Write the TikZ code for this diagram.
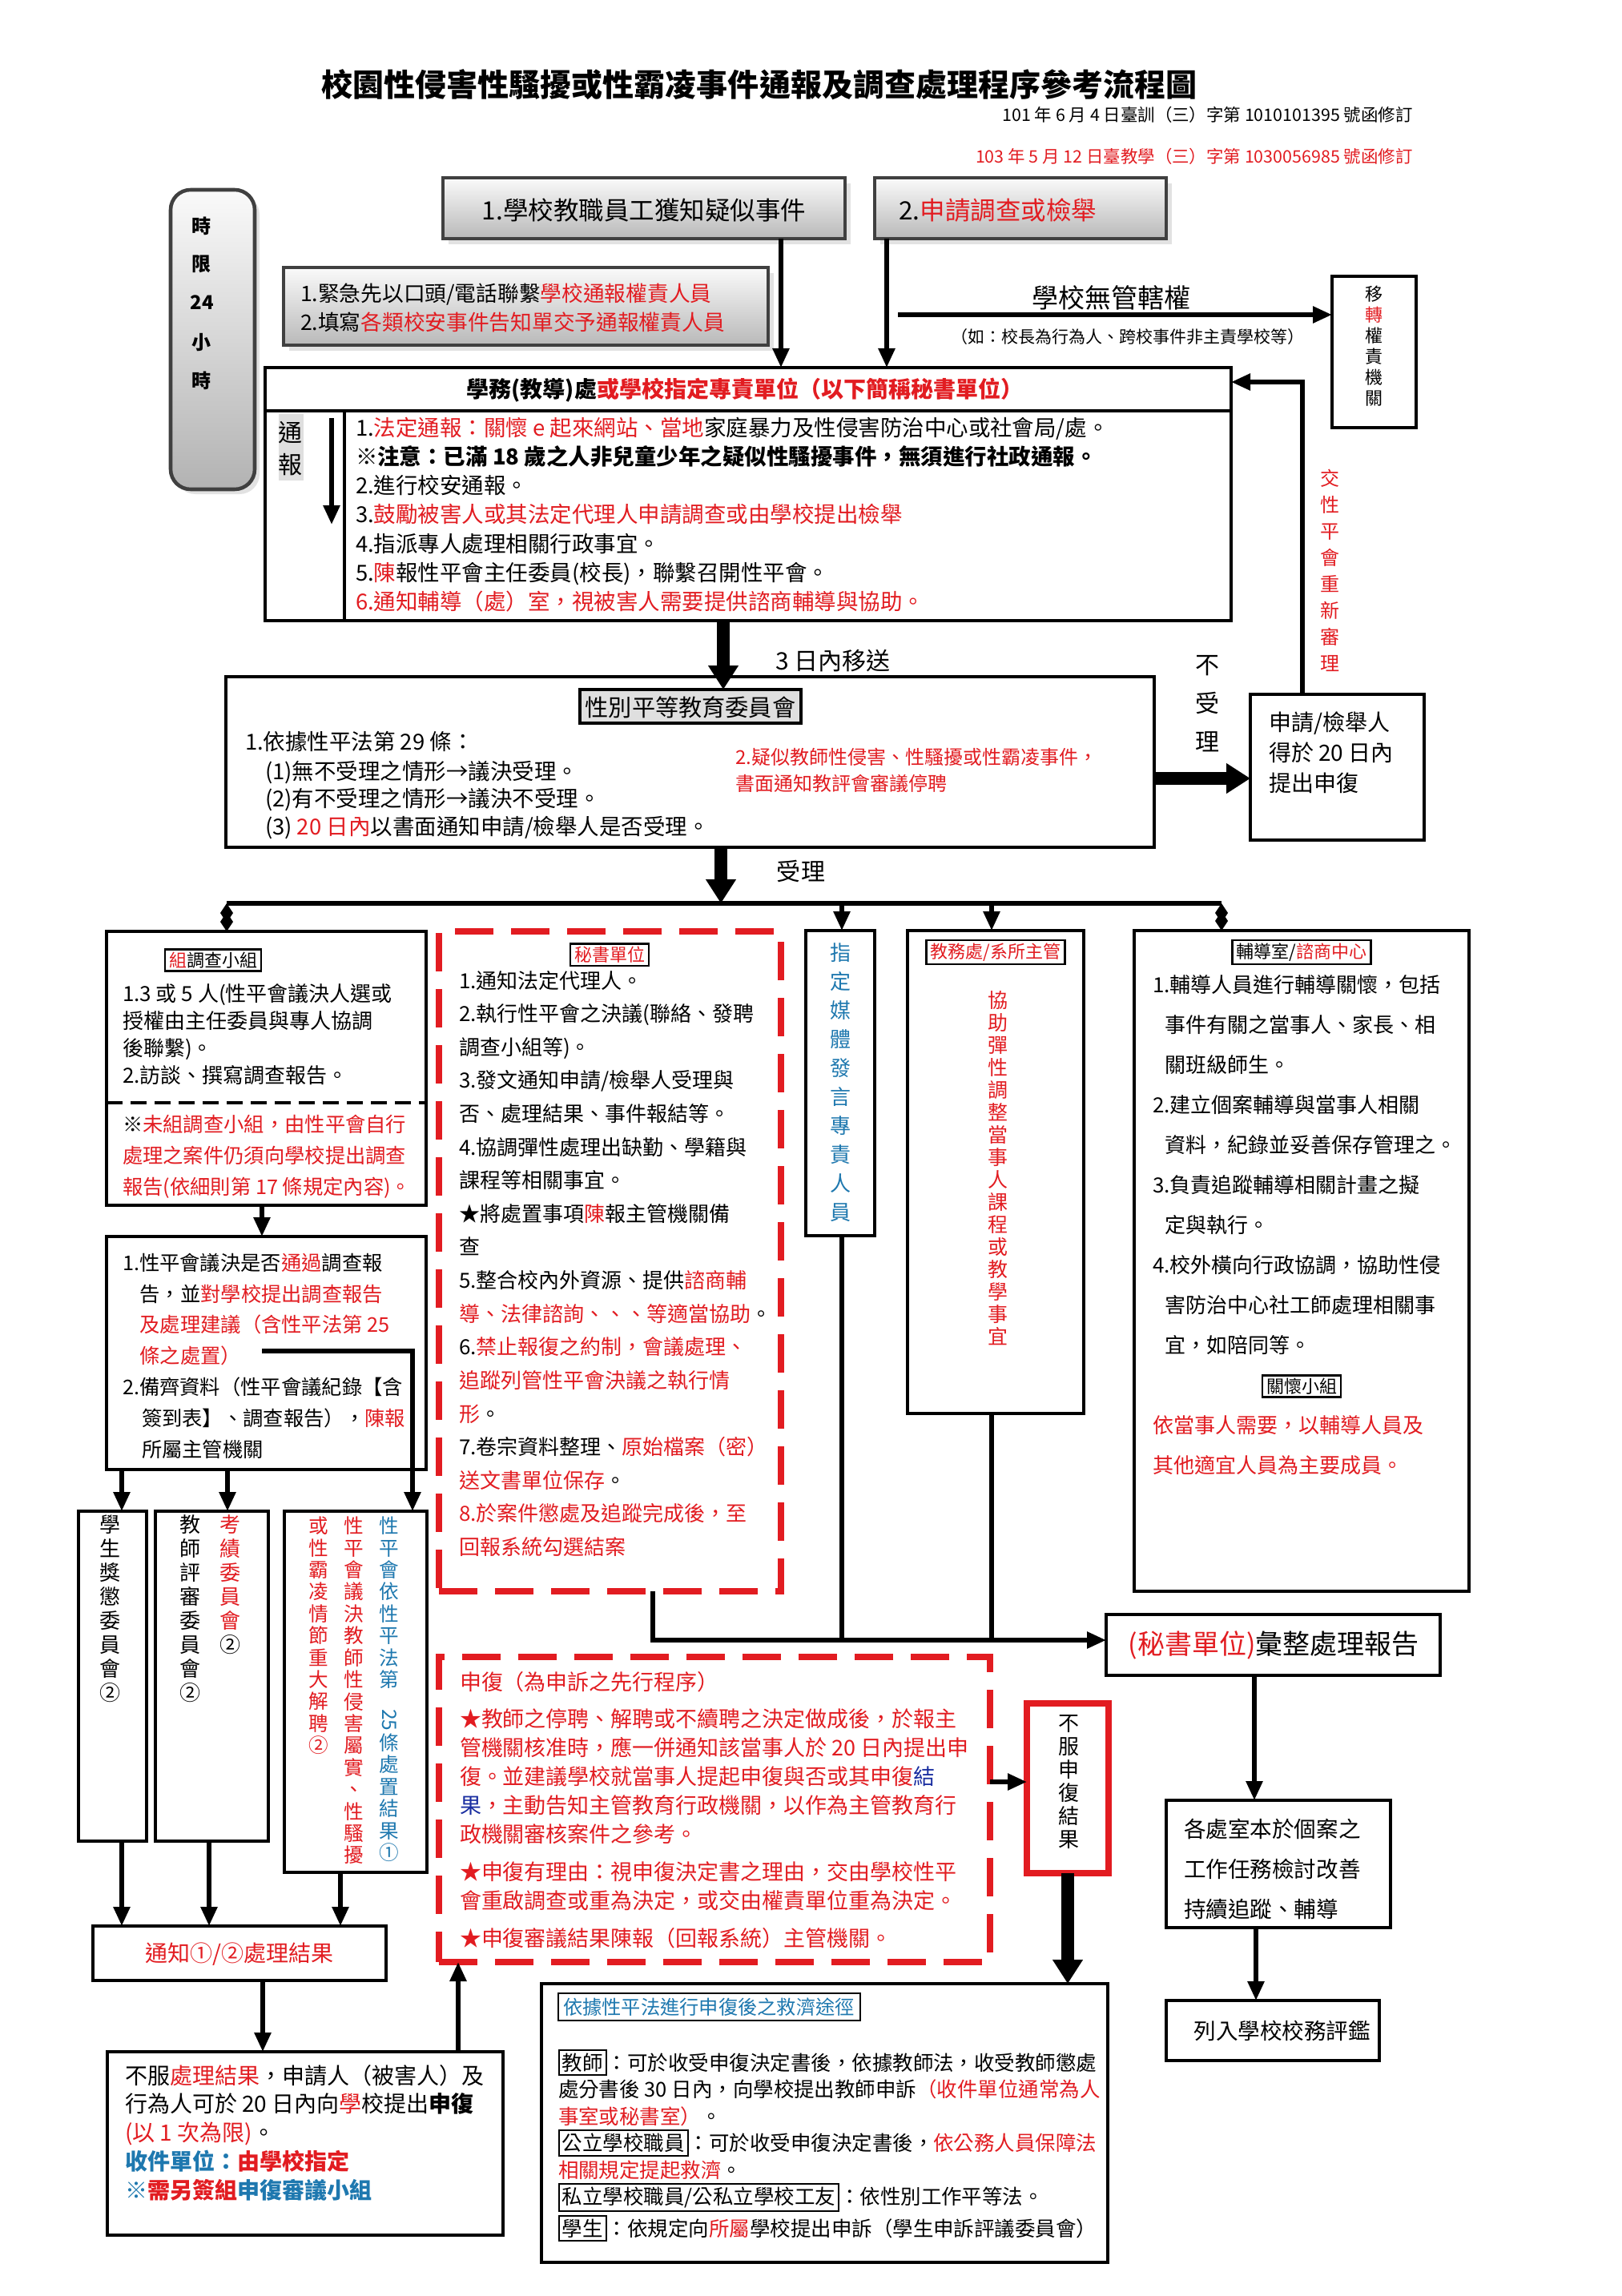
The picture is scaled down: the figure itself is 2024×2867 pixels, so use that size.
\documentclass[tikz,border=0pt]{standalone}
\usepackage{fontspec}
\usepackage{graphicx}
\setmainfont{Noto Sans CJK TC}
\usetikzlibrary{arrows.meta,shadows}
\definecolor{rd}{RGB}{226,28,33}
\definecolor{tl}{RGB}{30,120,175}
\definecolor{db}{RGB}{25,45,160}
\newcommand\fs[2]{\fontsize{#1}{#2}\selectfont}
\newcommand\R[1]{\textcolor{rd}{#1}}
\newcommand\T[1]{\textcolor{tl}{#1}}
\newcommand\fb[1]{{\setlength\fboxsep{0.8pt}\setlength\fboxrule{0.6pt}\fbox{#1}}}
\newcommand\mkbox[6]{\node[#6, minimum width={(#4-#2)*0.1mm}, minimum height={(#5-#3)*0.1mm}] (#1) at ({(#2+#4)/2},{(#3+#5)/2}) {};}
\tikzset{
 bx/.style={draw, line width=1.1pt, inner sep=0pt, outer sep=0pt},
 gbox/.style={draw=gray!50!black, line width=1.1pt, top color=gray!4, bottom color=gray!55, inner sep=0pt, outer sep=0pt, drop shadow={shadow xshift=0.7mm, shadow yshift=-0.7mm, fill=gray!45}},
 rdash/.style={draw=rd, line width=2.2pt, dash pattern=on 4.8mm off 2.2mm, inner sep=0pt, outer sep=0pt},
 txt/.style={inner sep=0pt, outer sep=0pt, align=left, anchor=north west},
 vt/.style={inner sep=0pt, outer sep=0pt, align=center, anchor=north},
 lbl/.style={draw, line width=0.7pt, inner xsep=0.5mm, inner ysep=0.35mm, font=\fs{6.26}{7}},
 arr/.style={line width=1.6pt, -{Triangle[length=2.4mm,width=2mm]}},
 tarr/.style={line width=4.5pt, -{Triangle[length=3mm,width=3.6mm]}},
 bl/.style={line width=1.6pt},
 dia/.style={line width=1.5pt, {Diamond[length=2.4mm,width=1.6mm]}-{Diamond[length=2.4mm,width=1.6mm]}},
}
\begin{document}
\begin{tikzpicture}[x=0.1mm,y=-0.1mm]
\useasboundingbox (0,0) rectangle (2024,2867);
\fill[white] (0,0) rectangle (2024,2867);

% title
\node[font=\bfseries\fs{11.1}{13}] (title) at (948,106) {校園性侵害性騷擾或性霸凌事件通報及調查處理程序參考流程圖};
\node[font=\fs{6.1}{7}, anchor=east] (rev1) at (1776,143) {101 年 6 月 4 日臺訓（三）字第 1010101395 號函修訂};
\node[font=\fs{6.1}{7}, anchor=east, text=rd] (rev2) at (1776,195) {103 年 5 月 12 日臺教學（三）字第 1030056985 號函修訂};

% time limit box
\mkbox{lim}{213}{237}{318}{611}{draw=gray!50!black, line width=1.3pt, rounded corners=2.5mm, top color=gray!4, bottom color=gray!60, inner sep=0pt, outer sep=0pt, drop shadow={shadow xshift=0.6mm, shadow yshift=-0.6mm, fill=gray!45}}
\node[font=\bfseries\fs{6.83}{8}] (l1) at (252,282) {時};
\node[font=\bfseries\fs{6.83}{8}] (l2) at (252,330) {限};
\node[font=\bfseries\fs{6.83}{8}] (l3) at (252,378) {24};
\node[font=\bfseries\fs{6.83}{8}] (l4) at (252,428) {小};
\node[font=\bfseries\fs{6.83}{8}] (l5) at (252,475) {時};

% top boxes
\mkbox{e1}{553}{222}{1055}{298}{gbox}
\node[font=\fs{8.96}{10}] (e1t) at (804,263) {1.學校教職員工獲知疑似事件};
\mkbox{e2}{1092}{222}{1456}{298}{gbox}
\node[font=\fs{8.96}{10}, anchor=west] (e2t) at (1110,263) {2.\R{申請調查或檢舉}};
\mkbox{em}{354}{334}{959}{431}{gbox}
\node[txt, font=\fs{7.6}{10.24}] (emt) at (375,354) {1.緊急先以口頭/電話聯繫\R{學校通報權責人員}\\2.填寫\R{各類校安事件告知單交予通報權責人員}};

% transfer box
\mkbox{mv}{1663}{345}{1768}{534}{bx}
\node[vt, font=\fs{6.26}{7.4}] (mvt) at (1715,357) {移\\\R{轉}\\權\\責\\機\\關};
\coordinate (ha) at (1121,393);
\draw[arr] (ha) -- (mv.west |- ha);
\node[font=\fs{9.39}{10}] (nj) at (1387,372) {學校無管轄權};
\node[font=\fs{5.97}{7}] (nj2) at (1408,421) {（如：校長為行為人、跨校事件非主責學校等）};

% student affairs box
\mkbox{sa}{331}{459}{1537}{775}{bx}
\draw[line width=1.1pt] (sa.west |- 0,513) -- (sa.east |- 0,513);
\draw[line width=1.1pt] (430,513) -- (sa.south -| 430,0);
\node[font=\bfseries\fs{7.97}{9}] (sahd) at (930,487) {學務(教導)處\R{或學校指定專責單位（以下簡稱秘書單位）}};
\fill[gray!25] (348,517) rectangle (379,600);
\node[font=\fs{8.54}{9}] (tb1) at (363,540) {通};
\node[font=\fs{8.54}{9}] (tb2) at (363,580) {報};
\coordinate (tba) at (414,522);
\coordinate (tbb) at (414,655);
\draw[arr] (tba) -- (tbb);
\node[txt, font=\fs{7.82}{10.3}] (sabody) at (444,521) {1.\R{法定通報：關懷 e 起來網站、當地}家庭暴力及性侵害防治中心或社會局/處。\\
\textbf{※注意：已滿 18 歲之人非兒童少年之疑似性騷擾事件，無須進行社政通報。}\\
2.進行校安通報。\\
3.\R{鼓勵被害人或其法定代理人申請調查或由學校提出檢舉}\\
4.指派專人處理相關行政事宜。\\
5.\R{陳}報性平會主任委員(校長)，聯繫召開性平會。\\
\R{6.通知輔導（處）室，視被害人需要提供諮商輔導與協助。}};

\draw[arr] (e1.south -| 975,0) -- (sa.north -| 975,0);
\draw[arr] (e2.south -| 1107,0) -- (sa.north -| 1107,0);

% committee
\mkbox{cm}{282}{845}{1441}{1058}{bx}
\mkbox{ct}{724}{861}{1000}{903}{draw, line width=1.1pt, fill=gray!25, inner sep=0pt, outer sep=0pt}
\node[font=\fs{8.3}{9}] (ctt) at (862,883) {性別平等教育委員會};
\draw[tarr] (sa.south -| 903,0) -- (ct.north -| 903,0);
\node[font=\fs{8.54}{9}] (d3) at (1040,825) {3 日內移送};
\node[txt, font=\fs{7.82}{9}] (cm1) at (306,913) {1.依據性平法第 29 條：};
\node[txt, font=\fs{7.82}{9.8}] (cm2) at (331,950) {(1)無不受理之情形→議決受理。\\(2)有不受理之情形→議決不受理。\\(3) \R{20 日內}以書面通知申請/檢舉人是否受理。};
\node[txt, font=\fs{6.83}{9.39}, text=rd] (cm3) at (918,934) {2.疑似教師性侵害、性騷擾或性霸凌事件，\\書面通知教評會審議停聘};

% appeal applicant box
\mkbox{ap}{1561}{867}{1778}{1049}{bx}
\node[txt, font=\fs{7.97}{10.8}] (apt) at (1584,889) {申請/檢舉人\\得於 20 日內\\提出申復};
\node[vt, font=\fs{8.54}{13.7}] (nac) at (1507,818) {不\\受\\理};
\draw[tarr] (cm.east |- 0,972) -- (ap.west |- 0,972);
\coordinate (fb1) at (1626,477);
\draw[arr] (ap.north -| fb1) -- (fb1) -- (sa.east |- fb1);
\node[vt, font=\fs{6.83}{9.39}, text=rd] (rehear) at (1660,586) {交\\性\\平\\會\\重\\新\\審\\理};

% accepted bus
\coordinate (busc) at (900,1128);
\draw[tarr] (cm.south -| busc) -- (busc);
\node[font=\fs{8.54}{9}] (acc) at (1000,1088) {受理};
\draw[line width=1.5pt] (283,1128) -- (1525,1128);

% investigation group box
\mkbox{zd}{133}{1163}{532}{1505}{bx}
\draw[line width=1.1pt, dash pattern=on 2mm off 1mm] (zd.west |- 0,1377) -- (zd.east |- 0,1377);
\node[lbl] (zdl) at (266,1199) {\R{組}調查小組};
\node[txt, font=\fs{7.4}{9.59}] (zdt) at (153,1229) {1.3 或 5 人(性平會議決人選或\\授權由主任委員與專人協調\\後聯繫)。\\2.訪談、撰寫調查報告。};
\node[txt, font=\fs{7.2}{11.1}, text=rd] (zdr) at (153,1392) {\textcolor{black}{※}未組調查小組，由性平會自行\\處理之案件仍須向學校提出調查\\報告(依細則第 17 條規定內容)。};

% secretariat box
\mkbox{sec}{548}{1163}{975}{1987}{rdash}
\node[lbl, text=rd] (secl) at (761,1192) {秘書單位};
\node[txt, font=\fs{7.4}{11.84}] (sect) at (573,1212) {1.通知法定代理人。\\
2.執行性平會之決議(聯絡、發聘\\
調查小組等)。\\
3.發文通知申請/檢舉人受理與\\
否、處理結果、事件報結等。\\
4.協調彈性處理出缺勤、學籍與\\
課程等相關事宜。\\
★將處置事項\R{陳}報主管機關備\\
查\\
5.整合校內外資源、提供\R{諮商輔}\\
\R{導、法律諮詢、、、等適當協助}。\\
6.\R{禁止報復之約制，會議處理、}\\
\R{追蹤列管性平會決議之執行情}\\
\R{形}。\\
7.卷宗資料整理、\R{原始檔案（密）}\\
\R{送文書單位保存}。\\
\R{8.於案件懲處及追蹤完成後，至}\\
\R{回報系統勾選結案}};

% media box
\mkbox{md}{1006}{1162}{1092}{1543}{bx}
\node[vt, font=\fs{7.4}{10.24}, text=tl] (mdt) at (1049,1178) {指\\定\\媒\\體\\發\\言\\專\\責\\人\\員};
% academic affairs box
\mkbox{ja}{1133}{1162}{1353}{1765}{bx}
\node[lbl, text=rd] (jal) at (1243,1189) {教務處/系所主管};
\node[vt, font=\fs{7.1}{7.97}, text=rd] (jat) at (1246,1237) {協\\助\\彈\\性\\調\\整\\當\\事\\人\\課\\程\\或\\教\\學\\事\\宜};
% counseling box
\mkbox{fd}{1416}{1162}{1834}{1987}{bx}
\node[lbl] (fdl) at (1625,1189) {輔導室/\R{諮商中心}};
\node[txt, font=\fs{7.4}{14.22}] (fdt) at (1439,1218) {1.輔導人員進行輔導關懷，包括\\
\hspace*{0.58em}事件有關之當事人、家長、相\\
\hspace*{0.58em}關班級師生。\\
2.建立個案輔導與當事人相關\\
\hspace*{0.58em}資料，紀錄並妥善保存管理之。\\
3.負責追蹤輔導相關計畫之擬\\
\hspace*{0.58em}定與執行。\\
4.校外橫向行政協調，協助性侵\\
\hspace*{0.58em}害防治中心社工師處理相關事\\
\hspace*{0.58em}宜，如陪同等。};
\node[lbl] (fdl2) at (1625,1731) {關懷小組};
\node[txt, font=\fs{7.4}{14.22}, text=rd] (fdr) at (1439,1768) {依當事人需要，以輔導人員及\\其他適宜人員為主要成員。};

% bus drops
\draw[dia] (283,1128) -- (zd.north -| 283,0);
\draw[dia] (1525,1128) -- (fd.north -| 1525,0);
\draw[arr] (1051,1128) -- (md.north -| 1051,0);
\draw[arr] (1238,1128) -- (ja.north -| 1238,0);

% committee decision box
\draw[arr] (zd.south -| 327,0) -- (327,1544);
\mkbox{dc}{133}{1544}{532}{1835}{bx}
\node[txt, font=\fs{7.2}{11.04}] (dct) at (153,1565) {1.性平會議決是否\R{通過}調查報\\
\hspace*{0.85em}告，並\R{對學校提出調查報告}\\
\hspace*{0.85em}\R{及處理建議（含性平法第 25}\\
\hspace*{0.85em}\R{條之處置）}\\
2.備齊資料（性平會議紀錄【含\\
\hspace*{0.95em}簽到表】、調查報告），\R{陳報}\\
\hspace*{0.95em}所屬主管機關};

% vertical boxes
\mkbox{va}{98}{1887}{183}{2299}{bx}
\mkbox{vb}{194}{1887}{335}{2299}{bx}
\mkbox{vc}{355}{1887}{533}{2338}{bx}
\node[vt, font=\fs{7.4}{8.54}] (vat) at (138,1892) {學\\生\\獎\\懲\\委\\員\\會\\②};
\node[vt, font=\fs{7.4}{8.54}, text=rd] (vbt1) at (287,1892) {考\\績\\委\\員\\會\\\textcolor{black}{②}};
\node[vt, font=\fs{7.4}{8.54}] (vbt2) at (238,1892) {教\\師\\評\\審\\委\\員\\會\\②};
\node[vt, font=\fs{7.0}{7.8}, text=tl] (vct1) at (486,1894) {性\\平\\會\\依\\性\\平\\法\\第\\\rotatebox{-90}{25}\\條\\處\\置\\結\\果\\①};
\node[vt, font=\fs{7.0}{7.8}, text=rd] (vct2) at (442,1894) {性\\平\\會\\議\\決\\教\\師\\性\\侵\\害\\屬\\實\\、\\性\\騷\\擾};
\node[vt, font=\fs{7.0}{7.8}, text=rd] (vct3) at (398,1894) {或\\性\\霸\\凌\\情\\節\\重\\大\\解\\聘\\②};
\draw[arr] (dc.south -| 152,0) -- (va.north -| 152,0);
\draw[arr] (dc.south -| 284,0) -- (vb.north -| 284,0);
\coordinate (cz) at (327,1687);
\draw[arr] (cz) -- (515,1687) -- (vc.north -| 515,0);

% notify box
\mkbox{nt}{116}{2405}{482}{2473}{bx}
\node[font=\fs{7.97}{9}, text=rd] (ntt) at (299,2440) {通知①/②處理結果};
\draw[arr] (va.south -| 152,0) -- (nt.north -| 152,0);
\draw[arr] (vb.south -| 261,0) -- (nt.north -| 261,0);
\draw[arr] (vc.south -| 425,0) -- (nt.north -| 425,0);

% report box and bus 2
\mkbox{hz}{1381}{2016}{1798}{2092}{bx}
\node[font=\fs{9.67}{10}] (hzt) at (1590,2054) {\R{(秘書單位)}彙整處理報告};
\coordinate (b2) at (815,2048);
\draw[arr] (sec.south -| b2) -- (b2) -- (hz.west |- b2);
\draw[bl] (md.south -| 1051,0) -- (1051,2048);
\draw[bl] (ja.south -| 1238,0) -- (1238,2048);

% appeal review dashed box
\mkbox{rv}{548}{2069}{1236}{2450}{rdash}
\node[txt, font=\fs{7.68}{10.24}, text=rd] (rv1) at (574,2087) {申復（為申訴之先行程序）};
\node[txt, font=\fs{7.68}{10.24}, text=rd] (rv2) at (574,2134) {★教師之停聘、解聘或不續聘之決定做成後，於報主\\管機關核准時，應一併通知該當事人於 20 日內提出申\\復。並建議學校就當事人提起申復與否或其申復\textcolor{db}{結}\\\textcolor{db}{果}，主動告知主管教育行政機關，以作為主管教育行\\政機關審核案件之參考。};
\node[txt, font=\fs{7.68}{10.24}, text=rd] (rv3) at (574,2325) {★申復有理由：視申復決定書之理由，交由學校性平\\會重啟調查或重為決定，或交由權責單位重為決定。};
\node[txt, font=\fs{7.68}{10.24}, text=rd] (rv4) at (574,2407) {★申復審議結果陳報（回報系統）主管機關。};

% not satisfied with appeal result
\mkbox{nf}{1282}{2127}{1384}{2339}{draw=rd, line width=2.3pt, inner sep=0pt, outer sep=0pt}
\node[vt, font=\fs{7.4}{8.25}] (nft) at (1334,2141) {不\\服\\申\\復\\結\\果};
\draw[arr] (rv.east |- 0,2225) -- (nf.west |- 0,2225);

% follow up boxes
\mkbox{gc}{1456}{2248}{1736}{2407}{bx}
\node[txt, font=\fs{7.85}{14.22}] (gct) at (1478,2271) {各處室本於個案之\\工作任務檢討改善\\持續追蹤、輔導};
\mkbox{lr}{1456}{2498}{1722}{2573}{bx}
\node[font=\fs{7.85}{9}, anchor=west] (lrt) at (1478,2536) {列入學校校務評鑑};
\draw[arr] (hz.south -| 1566,0) -- (gc.north -| 1566,0);
\draw[arr] (gc.south -| 1568,0) -- (lr.north -| 1568,0);

% not satisfied with result box
\mkbox{bf}{134}{2562}{628}{2791}{bx}
\node[txt, font=\fs{7.97}{10.24}] (bft) at (156,2578) {不服\R{處理結果}，申請人（被害人）及\\行為人可於 20 日內向\R{學}校提出\textbf{申復}\\\R{(以 1 次為限)}。\\\textbf{\T{收件單位：}\R{由學校指定}}\\\textbf{\T{※}\R{需另簽組}\T{申復審議小組}}};
\draw[arr] (nt.south -| 328,0) -- (bf.north -| 328,0);
\draw[arr] (bf.north -| 572,0) -- (rv.south -| 572,0);

% remedy box
\mkbox{jj}{676}{2477}{1383}{2825}{bx}
\mkbox{jt}{697}{2489}{1074}{2523}{draw, line width=0.8pt, inner sep=0pt, outer sep=0pt}
\node[font=\fs{6.9}{8}, text=tl] (jtt) at (885,2506) {依據性平法進行申復後之救濟途徑};
\node[txt, font=\fs{7.25}{9.53}] (jjt) at (697,2559) {\fb{教師}：可於收受申復決定書後，依據教師法，收受教師懲處\\處分書後 30 日內，向學校提出教師申訴\R{（收件單位通常為人}\\\R{事室或秘書室）}。\\\fb{公立學校職員}：可於收受申復決定書後，\R{依公務人員保障法}\\\R{相關規定提起救濟}。\\\fb{私立學校職員/公私立學校工友}：依性別工作平等法。\\\fb{學生}：依規定向\R{所屬}學校提出申訴（學生申訴評議委員會）};
\draw[tarr] (nf.south) -- (jj.north -| nf.south);
\end{tikzpicture}
\end{document}
